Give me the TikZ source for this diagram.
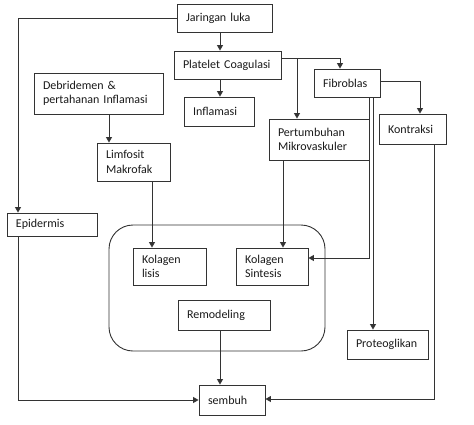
\documentclass[tikz,border=0pt]{standalone}
\usepackage{fontspec}
\setmainfont{Carlito}
\usetikzlibrary{arrows.meta,calc}
\begin{document}
\begin{tikzpicture}[x=1pt,y=-1pt,
  ln/.style={draw=black!80,line width=0.9pt},
  arr/.style={ln,-{Triangle[length=5.5pt,width=6pt]}},
  bx/.style={ln,rectangle,inner xsep=9pt,inner ysep=0pt,align=left,
    font=\fontsize{12}{14.5}\selectfont,text=black!90},
]
\useasboundingbox (0,0) rectangle (474,424);
% group
\draw[ln,rounded corners=24pt] (109,225) rectangle (325,351);
% nodes
\node[bx,minimum width=95pt,minimum height=28pt,text width=77pt] (jar) at (224.5,18) {Jaringan luka};
\node[bx,minimum width=107pt,minimum height=28pt,text width=89pt] (plat) at (227.5,65) {Platelet Coagulasi};
\node[bx,minimum width=70pt,minimum height=29pt,text width=52pt] (infl) at (219,111.5) {Inflamasi};
\node[bx,minimum width=129pt,minimum height=41pt,text width=111pt] (debr) at (98.5,93.5) {Debridemen \&\\pertahanan Inflamasi};
\node[bx,minimum width=73pt,minimum height=38pt,text width=55pt] (limf) at (133.5,162) {Limfosit\\Makrofak};
\node[bx,minimum width=66pt,minimum height=28pt,text width=48pt] (fib) at (347,83) {Fibroblas};
\node[bx,minimum width=67pt,minimum height=30pt,text width=49pt] (kon) at (412.5,129) {Kontraksi};
\node[bx,minimum width=100pt,minimum height=41pt,text width=82pt] (pert) at (319,139.5) {Pertumbuhan\\Mikrovaskuler};
\node[bx,minimum width=90pt,minimum height=23pt,text width=72pt] (epi) at (52,224.5) {Epidermis};
\node[bx,minimum width=73pt,minimum height=37pt,text width=55pt] (klis) at (169.5,266.5) {Kolagen\\lisis};
\node[bx,minimum width=72pt,minimum height=37pt,text width=54pt] (ksin) at (272,266.5) {Kolagen\\Sintesis};
\node[bx,minimum width=92pt,minimum height=30pt,text width=74pt] (remo) at (224,315) {Remodeling};
\node[bx,minimum width=66pt,minimum height=30pt,text width=48pt] (sem) at (232,400) {sembuh};
\node[bx,minimum width=81pt,minimum height=29pt,text width=63pt] (prot) at (387.5,344.5) {Proteoglikan};
% connectors
\draw[arr] (jar.west) -| (epi.north -| 18,0);
\draw[arr] (jar.south -| 220,0) -- (plat.north -| 220,0);
\draw[arr] (plat.south -| 220,0) -- (infl.north -| 220,0);
\draw[arr] (plat.east |- 0,58) -| (fib.north -| 340,0);
\draw[arr] (plat.east |- 0,58) -| (pert.north -| 297,0);
\draw[arr] (fib.east |- 0,81) -| (kon.north -| 420,0);
\draw[arr] (debr.south -| 109,0) -- (limf.north -| 109,0);
\draw[arr] (limf.south -| 152,0) -- (klis.north -| 152,0);
\draw[arr] (pert.south -| 283,0) -- (ksin.north -| 283,0);
\draw[arr] (fib.south -| 369,0) |- (ksin.east |- 0,258);
\draw[arr] (fib.south -| 373,0) -- (prot.north -| 373,0);
\draw[arr] (kon.south -| 434,0) |- (sem.east |- 0,399);
\draw[arr] (epi.south -| 18,0) |- (sem.west |- 0,400);
\draw[arr] (remo.south -| 220,0) -- (sem.north -| 220,0);
\end{tikzpicture}
\end{document}
